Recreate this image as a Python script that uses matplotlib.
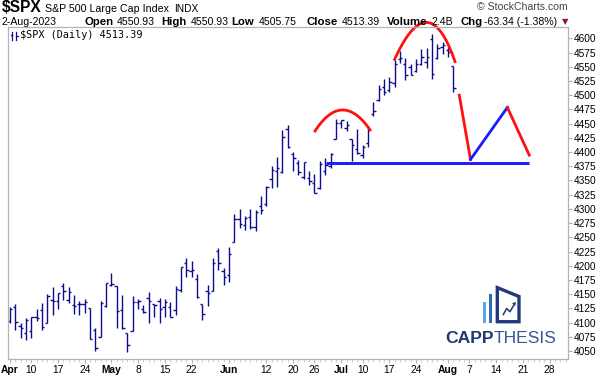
"""
SPX daily OHLC bars with head-and-shoulders projection sketch.
"""

import matplotlib
matplotlib.use("Agg")
import matplotlib.pyplot as plt
from matplotlib.lines import Line2D
from matplotlib.patches import Polygon, Rectangle
import numpy as np

W, H = 599, 378
_BAR = "#0c0c8c"
_RED = "#ff1010"
_BLUE = "#1a1aff"
_GRAY = "#b4b4b4"

# trading days Apr 3 .. Aug 2, 2023 (index = trading day)
opens = [4102.20, 4128.03, 4094.50, 4081.15, 4085.20, 4110.29, 4121.72, 4100.04, 4140.11,
         4137.17, 4164.26, 4139.33, 4130.48, 4132.14, 4132.07, 4126.43, 4087.78, 4075.29,
         4129.63, 4166.79, 4164.10, 4122.25, 4082.61, 4084.73, 4136.98, 4124.25, 4143.74,
         4132.24, 4138.54, 4126.65, 4127.95, 4122.85, 4157.68, 4204.15, 4190.78, 4176.80,
         4132.96, 4155.71, 4156.16, 4226.71, 4190.74, 4183.03, 4241.01, 4282.99, 4271.34,
         4285.47, 4268.69, 4304.88, 4308.32, 4352.61, 4366.29, 4365.33, 4440.95, 4396.11,
         4380.01, 4355.40, 4354.17, 4344.84, 4337.36, 4367.48, 4374.94, 4422.44, 4450.48,
         4442.04, 4422.62, 4404.54, 4394.23, 4415.55, 4467.69, 4491.50, 4514.61, 4508.86,
         4521.78, 4563.87, 4554.38, 4550.16, 4543.39, 4555.19, 4558.96, 4598.26, 4565.75,
         4584.82, 4578.83, 4550.93]
highs = [4127.66, 4133.13, 4099.69, 4107.32, 4109.50, 4124.26, 4134.37, 4150.26, 4163.19,
         4151.72, 4169.48, 4162.57, 4148.57, 4138.02, 4142.41, 4126.43, 4089.67, 4138.24,
         4170.06, 4186.92, 4164.10, 4148.30, 4082.61, 4147.02, 4142.30, 4130.35, 4154.28,
         4132.80, 4143.74, 4141.25, 4135.54, 4164.67, 4198.65, 4212.91, 4209.22, 4185.68,
         4132.96, 4165.74, 4212.87, 4231.10, 4195.44, 4232.43, 4290.67, 4299.28, 4288.33,
         4299.19, 4298.01, 4322.62, 4340.13, 4375.37, 4391.82, 4439.20, 4448.47, 4400.15,
         4386.22, 4382.25, 4366.55, 4362.06, 4384.42, 4390.35, 4398.39, 4458.48, 4456.46,
         4454.06, 4422.62, 4440.39, 4412.60, 4443.64, 4488.34, 4517.38, 4527.76, 4532.85,
         4562.30, 4578.43, 4564.74, 4555.00, 4563.41, 4580.62, 4582.47, 4607.07, 4590.16,
         4594.22, 4584.62, 4550.93]
lows = [4098.79, 4086.87, 4072.56, 4069.84, 4072.55, 4102.61, 4086.94, 4099.40, 4113.20,
        4123.18, 4140.36, 4134.49, 4114.57, 4113.86, 4117.77, 4071.38, 4049.35, 4075.29,
        4127.18, 4164.12, 4089.72, 4088.86, 4048.28, 4084.73, 4123.81, 4116.65, 4098.92,
        4109.29, 4099.12, 4110.27, 4109.86, 4113.62, 4153.14, 4180.20, 4179.68, 4142.54,
        4103.98, 4129.73, 4156.16, 4192.18, 4166.15, 4171.64, 4241.01, 4266.82, 4263.09,
        4263.96, 4261.07, 4291.70, 4304.37, 4337.66, 4337.85, 4362.60, 4407.44, 4367.19,
        4360.14, 4351.82, 4341.34, 4328.08, 4335.00, 4360.22, 4371.97, 4422.44, 4442.29,
        4436.61, 4385.05, 4397.40, 4389.92, 4408.46, 4463.23, 4489.36, 4499.56, 4504.90,
        4514.59, 4557.48, 4527.56, 4535.79, 4541.29, 4552.42, 4547.58, 4528.56, 4564.01,
        4573.14, 4567.53, 4505.75]
closes = [4124.51, 4100.60, 4090.38, 4105.02, 4109.11, 4108.94, 4091.95, 4146.22, 4137.64,
          4151.32, 4154.87, 4154.52, 4129.79, 4133.52, 4137.04, 4071.63, 4055.99, 4135.35,
          4169.48, 4167.87, 4119.58, 4090.75, 4061.22, 4136.25, 4138.12, 4119.17, 4137.64,
          4130.62, 4124.08, 4136.28, 4109.90, 4158.77, 4198.05, 4191.98, 4192.63, 4145.58,
          4115.24, 4151.28, 4205.45, 4205.52, 4179.83, 4221.02, 4282.37, 4273.79, 4283.85,
          4267.52, 4293.93, 4298.86, 4338.93, 4369.01, 4372.59, 4425.84, 4409.59, 4388.71,
          4365.69, 4381.89, 4348.33, 4328.82, 4378.41, 4376.86, 4396.44, 4450.38, 4455.59,
          4446.82, 4411.59, 4398.95, 4409.53, 4439.26, 4472.16, 4510.04, 4505.42, 4522.79,
          4554.98, 4565.72, 4534.87, 4536.34, 4554.64, 4567.46, 4566.75, 4537.41, 4582.23,
          4588.96, 4576.73, 4513.39]

tick_idx = [0, 4, 9, 14, 19, 24, 29, 34, 41, 48, 53, 57, 62, 66, 71, 76, 82, 86, 91, 96, 101]
tick_labels = ["Apr", "10", "17", "24", "May", "8", "15", "22", "Jun", "12", "20", "26",
               "Jul", "10", "17", "24", "Aug", "7", "14", "21", "28"]
month_labels = {"Apr", "May", "Jun", "Jul", "Aug"}
y_ticks = list(range(4050, 4601, 25))

# hand-drawn annotation (trading-day index, price)
small_top = [(57.1, 4437), (62.2, 4474), (67.4, 4439)]
big_top = [(72.0, 4563), (78.0, 4628), (83.3, 4559)]
neckline_x = [59.2, 97.1]
neckline_y = [4381, 4381]
proj_x = [84.1, 86.2, 93.1, 97.2]
proj_y = [4500, 4387, 4478.5, 4394.5]


def fx(x):
    return x / W


def fy(y):
    return 1 - y / H


def arc(pts, n=60):
    (x0, y0), (xp, yp), (x2, y2) = pts
    cx = 2 * xp - (x0 + x2) / 2
    cy = 2 * yp - (y0 + y2) / 2
    t = np.linspace(0, 1, n)
    xs = (1 - t) ** 2 * x0 + 2 * t * (1 - t) * cx + t ** 2 * x2
    ys = (1 - t) ** 2 * y0 + 2 * t * (1 - t) * cy + t ** 2 * y2
    return xs, ys


fig = plt.figure(figsize=(W / 100, H / 100), dpi=100)
ax = fig.add_axes([fx(8.3), fy(359), fx(568.3) - fx(8.3), fy(26.7) - fy(359)])

idx = np.arange(len(closes))
ax.vlines(idx, lows, highs, color=_BAR, lw=1.0)
ax.hlines(opens, idx - 0.45, idx, color=_BAR, lw=1.0)
ax.hlines(closes, idx, idx + 0.45, color=_BAR, lw=1.0)

# projection sketch
ax.plot(neckline_x, neckline_y, color=_BLUE, lw=2.1, solid_capstyle="butt")
for pts in (small_top, big_top):
    xs, ys = arc(pts)
    ax.plot(xs, ys, color=_RED, lw=2.0, clip_on=False)
ax.plot(proj_x[0:2], proj_y[0:2], color=_RED, lw=2.0)
ax.plot(proj_x[1:3], proj_y[1:3], color=_BLUE, lw=2.0)
ax.plot(proj_x[2:4], proj_y[2:4], color=_RED, lw=2.0)

ax.set_xlim(-0.3, 104.5)
ax.set_ylim(4036, 4620.5)

for s in ax.spines.values():
    s.set_color(_GRAY)
    s.set_linewidth(0.9)

ax.yaxis.tick_right()
ax.set_yticks(y_ticks)
ax.set_yticklabels([str(v) for v in y_ticks], fontsize=7.3, family="Liberation Sans")
ax.tick_params(axis="y", length=3, width=0.8, color=_GRAY, pad=1)

ax.set_xticks(tick_idx)
ax.set_xticklabels(tick_labels, fontsize=7.4, family="Liberation Sans")
for lab in ax.get_xticklabels():
    if lab.get_text() in month_labels:
        lab.set_fontweight("bold")
ax.set_xticks(np.arange(0, 105), minor=True)
ax.tick_params(axis="x", which="major", length=3, width=0.8, color=_GRAY, pad=1.5)
ax.tick_params(axis="x", which="minor", length=2, width=0.6, color="#c8c8c8")

# header
txt = dict(va="center", ha="left", family="Liberation Sans", color="black")
fig.text(fx(1.5), fy(8), "$SPX", fontsize=11.2, fontweight="bold", **txt)
fig.text(fx(45), fy(8.5), "S&P 500 Large Cap Index", fontsize=7.7, **txt)
fig.text(fx(174), fy(8.5), "INDX", fontsize=7.3, **txt)
fig.text(fx(568), fy(7.5), "\u00a9 StockCharts.com", fontsize=7.6, va="center",
         ha="right", family="Liberation Sans", color="#444444")

row2 = [("2-Aug-2023", 2, False), ("Open", 85, True), ("4550.93", 117, False),
        ("High", 161, True), ("4550.93", 190.5, False), ("Low", 231.5, True),
        ("4505.75", 259, False), ("Close", 306.5, True), ("4513.39", 342, False),
        ("Volume", 387, True), ("2.4B", 432, False), ("Chg", 460.5, True),
        ("-63.34 (-1.38%)", 484, False)]
for s, x, bold in row2:
    fig.text(fx(x), fy(21.8), s, fontsize=8.2 if bold else 7.6,
             fontweight="bold" if bold else "normal", **txt)
fig.text(fx(561.5), fy(21.5), "\u25bc", fontsize=6, color="#8b1538",
         va="center", ha="left", family="DejaVu Sans")

# legend line inside the chart
for x0 in (12.0, 16.0):
    fig.add_artist(Line2D([fx(x0), fx(x0)], [fy(32), fy(40)], color=_BAR, lw=0.9))
fig.add_artist(Line2D([fx(10.5), fx(12)], [fy(35), fy(35)], color=_BAR, lw=0.9))
fig.add_artist(Line2D([fx(16), fx(17.5)], [fy(36), fy(36)], color=_BAR, lw=0.9))
fig.text(fx(19.5), fy(35.5), "$SPX (Daily) 4513.39", fontsize=7.3,
         family="DejaVu Sans Mono", va="center", ha="left")

# CAPP THESIS logo
tf = fig.transFigure
fig.add_artist(Rectangle((fx(483.3), fy(323.3)), fx(2.6), fy(302.3) - fy(323.3),
                         transform=tf, color="#5aa8e2", lw=0))
fig.add_artist(Rectangle((fx(489.2), fy(323.3)), fx(3.2), fy(294) - fy(323.3),
                         transform=tf, color="#2e6db6", lw=0))
frame = [(497.3, 321.7), (497.3, 287.6), (519.0, 296.5), (519.0, 321.7)]
fig.add_artist(Polygon([(fx(a), fy(b)) for a, b in frame], closed=True, fill=False,
                       transform=tf, edgecolor="#1f3a78", lw=2.4, joinstyle="miter"))
zig = [(503.3, 314.5), (506.7, 308.5), (510.0, 311.7), (514.5, 304.0)]
fig.add_artist(Line2D([fx(a) for a, b in zig], [fy(b) for a, b in zig],
                      color="#1f3a78", lw=1.1))
fig.add_artist(Polygon([(fx(516), fy(302)), (fx(512), fy(303.2)), (fx(515.2), fy(306))],
                       closed=True, transform=tf, color="#1f3a78", lw=0))
fig.text(fx(445), fy(338.5), "CAPP", fontsize=12.6, fontweight="bold",
         color="#1f3a70", va="center", ha="left", family="Liberation Sans")
fig.text(fx(493.8), fy(338.5), "THESIS", fontsize=12.6, color="#3a5592",
         va="center", ha="left", family="Liberation Sans")

fig.savefig("out.png", dpi=100)
